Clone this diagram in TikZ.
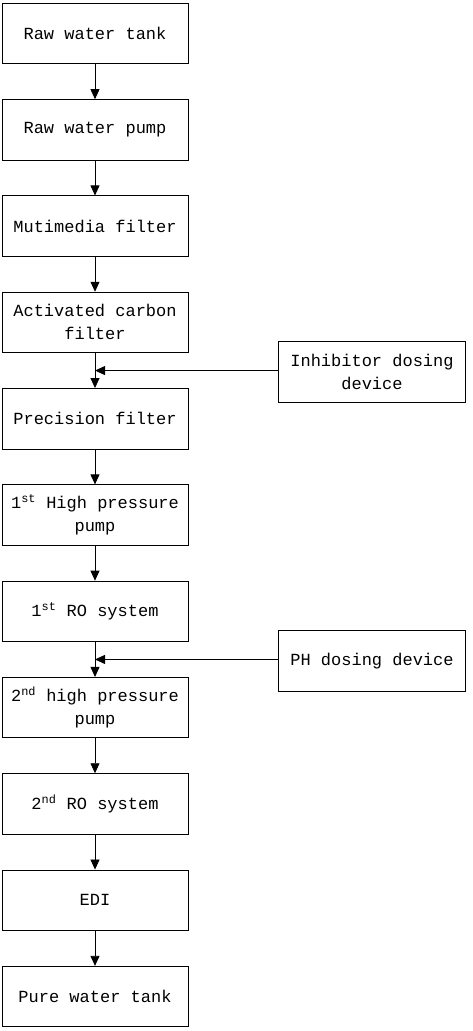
\documentclass[tikz,border=0pt]{standalone}
\usepackage{fontspec}
\setmainfont{Liberation Mono}
\usetikzlibrary{positioning,arrows.meta,calc}

\begin{document}
\begin{tikzpicture}[x=1pt, y=1pt, node distance=35pt, every node/.style = {shape=rectangle, draw, align=center, minimum width=186pt, minimum height=60.5pt, line width=0.8pt, font=\fontsize{17}{23}\selectfont}, flow/.style = {-{Triangle[length=10pt,width=9pt]}, line width=0.8pt}]
                \useasboundingbox (0,0) rectangle (472,-1031);
                \node (rwt) at (95,-33.5) {Raw water tank};
                \node (rwp) [below=of rwt] {Raw water pump};
                \node (mmf) [below=of rwp] {Mutimedia filter};
                \node (acf) [below=of mmf] {Activated carbon\\filter};
                \node (prf) [below=of acf] {Precision filter};
                \node (hp1) [below=of prf] {1\textsuperscript{st} High pressure\\pump};
                \node (ro1) [below=of hp1] {1\textsuperscript{st} RO system};
                \node (hp2) [below=of ro1] {2\textsuperscript{nd} high pressure\\pump};
                \node (ro2) [below=of hp2] {2\textsuperscript{nd} RO system};
                \node (edi) [below=of ro2] {EDI};
                \node (pwt) [below=of edi] {Pure water tank};
                % dosing devices
                \coordinate (m1) at ($(acf.south)!0.5!(prf.north)$);
                \coordinate (m2) at ($(ro1.south)!0.5!(hp2.north)$);
                \node (inh) [minimum width=187pt] at (372,-372) {Inhibitor dosing\\device};
                \node (phd) [minimum width=187pt] at (372,-661) {PH dosing device};
                \draw[flow] (rwt) -- (rwp);
                \draw[flow] (rwp) -- (mmf);
                \draw[flow] (mmf) -- (acf);
                \draw[flow] (acf) -- (prf);
                \draw[flow] (prf) -- (hp1);
                \draw[flow] (hp1) -- (ro1);
                \draw[flow] (ro1) -- (hp2);
                \draw[flow] (hp2) -- (ro2);
                \draw[flow] (ro2) -- (edi);
                \draw[flow] (edi) -- (pwt);
                \draw[flow] (inh.west |- m1) -- (m1);
                \draw[flow] (phd.west |- m2) -- (m2);
            \end{tikzpicture}
\end{document}
